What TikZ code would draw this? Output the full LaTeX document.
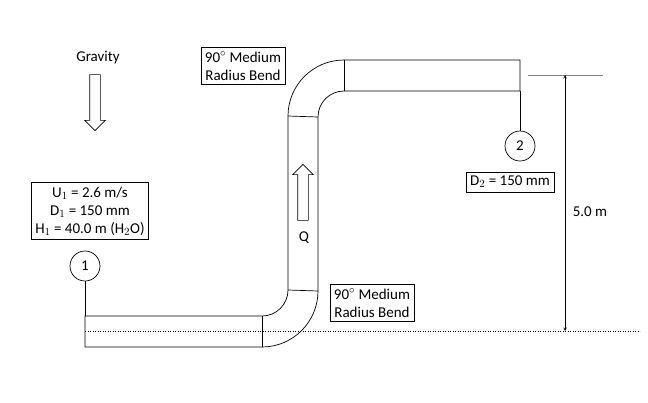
\documentclass[tikz,border=0pt]{standalone}
\usepackage{fontspec}
\setmainfont{Carlito}
\usetikzlibrary{shapes.arrows}
\begin{document}
\begin{tikzpicture}[x=1pt,y=-1pt,line width=0.7pt,
  lbl/.style={draw,line width=0.6pt,font=\fontsize{15}{18}\selectfont,align=center,inner sep=4pt},
  hol/.style={draw,single arrow,single arrow head extend=5pt,single arrow head indent=0pt,minimum height=56pt,minimum width=20pt,inner sep=5pt,line width=0.6pt},
  txt/.style={font=\fontsize{15}{18}\selectfont}]
\useasboundingbox (0,0) rectangle (648,402);
% pipe
\draw (85,316) -- (262,316) .. controls (276.4,316) and (288,304.4) .. (288,290) -- (288,116)
  .. controls (288,85.1) and (313.1,60) .. (344,60) -- (520,60) -- (520,91) -- (344,91)
  .. controls (329.6,91) and (318,102.6) .. (318,117) -- (318,291)
  .. controls (318,321.9) and (292.9,347) .. (262,347) -- (85,347) -- cycle;
\draw (262,316) -- (262,347);
\draw (288,290) -- (318,291);
\draw (288,116) -- (318,117);
\draw (344,60) -- (344,91);
\draw[dotted,line width=0.5pt] (85,331) -- (640,331);
\draw[gray,line width=0.5pt] (528,75) -- (603,75);
% circles
\node[draw,circle,minimum size=30pt,inner sep=0pt,txt] (c1) at (85,266) {1};
\node[draw,circle,minimum size=30pt,inner sep=0pt,txt] (c2) at (520,146) {2};
\draw (c1.south) -- (85,316);
\draw (520,91) -- (c2.north);
% dimension
\coordinate (dt) at (565,75);
\coordinate (db) at (565,331);
\draw[<->,>=stealth,line width=0.6pt] (dt) -- (db);
\node[txt] (dim) at (590,212) {5.0 m};
% labels
\node[lbl] (b1) at (243,66) {90$^\circ$ Medium\\Radius Bend};
\node[lbl] (b2) at (372,303) {90$^\circ$ Medium\\Radius Bend};
\node[lbl] (d2) at (510,182) {D$_2$ = 150 mm};
\node[lbl] (in) at (90,211) {U$_1$ = 2.6 m/s\\D$_1$ = 150 mm\\H$_1$ = 40.0 m (H$_2$O)};
\node[txt] (g) at (98,58) {Gravity};
\node[hol,shape border rotate=270] (ga) at (95,100) {};
\node[hol,shape border rotate=90] (qa) at (303,195) {};
\node[txt] (q) at (304,238) {Q};
\end{tikzpicture}
\end{document}
